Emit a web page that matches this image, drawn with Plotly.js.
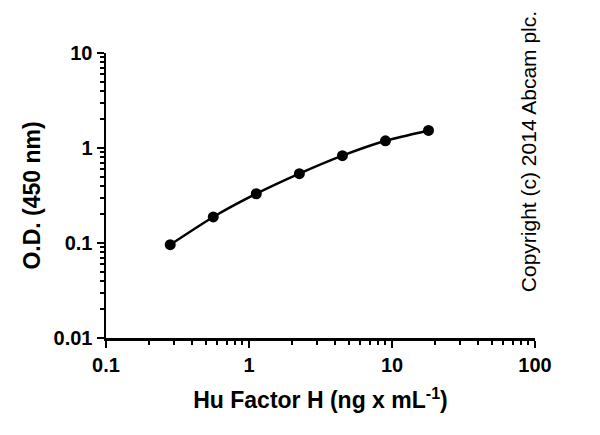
<!DOCTYPE html>
<html>
<head>
<meta charset="utf-8">
<script src="https://cdn.plot.ly/plotly-3.0.1.min.js"></script>
<style>
  html, body { margin: 0; padding: 0; background: #fff; }
  #chart { width: 600px; height: 435px; }
</style>
</head>
<body>
<div id="chart"></div>
<script>
// Hu Factor H standard curve
var concentration = [0.28125, 0.5625, 1.125, 2.25, 4.5, 9, 18];
var odValues = [0.096, 0.188, 0.33, 0.537, 0.83, 1.19, 1.53];

var xTicks = [0.1, 1, 10, 100];
var xTickText = ['0.1', '1', '10', '100'];
var yTicks = [0.01, 0.1, 1, 10];
var yTickText = ['0.01', '0.1', '1', '10'];

// minor ticks 2..9 in every decade
function minorTicks(start, decades) {
  var out = [];
  for (var d = 0; d < decades; d++) {
    var base = start * Math.pow(10, d);
    for (var m = 2; m <= 9; m++) out.push(base * m);
  }
  return out;
}

var trace = {
  x: concentration,
  y: odValues,
  type: 'scatter',
  mode: 'lines+markers',
  line: { color: '#000', width: 2.5, shape: 'spline', smoothing: 0.6 },
  marker: { color: '#000', size: 11 },
  hoverinfo: 'none'
};

var FONT = 'Liberation Sans, Arial, sans-serif';

var layout = {
  width: 600,
  height: 435,
  margin: { l: 106, r: 65, t: 53, b: 97 },
  paper_bgcolor: '#fff',
  plot_bgcolor: '#fff',
  showlegend: false,
  font: { family: FONT, color: '#000' },
  xaxis: {
    type: 'log',
    range: [-1, 2],
    tickmode: 'array',
    tickvals: xTicks,
    ticktext: xTickText,
    ticks: 'outside',
    ticklen: 7,
    tickwidth: 2.5,
    tickcolor: '#000',
    minor: { tickvals: minorTicks(0.1, 3), ticks: 'outside', ticklen: 4, tickwidth: 2, tickcolor: '#000', showgrid: false },
    showline: true,
    linecolor: '#000',
    linewidth: 2.5,
    showgrid: false,
    zeroline: false,
    tickfont: { family: FONT, size: 20, color: '#000', weight: 'bold' },
    title: { text: 'Hu Factor H (ng x mL<sup>-1</sup>)', font: { family: FONT, size: 23, color: '#000', weight: 'bold' }, standoff: 18 }
  },
  yaxis: {
    type: 'log',
    range: [-2, 1],
    tickmode: 'array',
    tickvals: yTicks,
    ticktext: yTickText,
    ticks: 'outside',
    ticklen: 7,
    tickwidth: 2.5,
    tickcolor: '#000',
    minor: { tickvals: minorTicks(0.01, 3), ticks: 'outside', ticklen: 4, tickwidth: 2, tickcolor: '#000', showgrid: false },
    showline: true,
    linecolor: '#000',
    linewidth: 2.5,
    showgrid: false,
    zeroline: false,
    tickfont: { family: FONT, size: 20, color: '#000', weight: 'bold' },
    title: { text: 'O.D. (450 nm)', font: { family: FONT, size: 23, color: '#000', weight: 'bold' }, standoff: 7 }
  },
  annotations: [{
    text: 'Copyright (c) 2014 Abcam plc.',
    xref: 'paper', yref: 'paper',
    x: 0.985, y: 0.654,
    xanchor: 'center', yanchor: 'middle',
    textangle: -90,
    showarrow: false,
    font: { family: FONT, size: 21, color: '#000' }
  }]
};

Plotly.newPlot('chart', [trace], layout, { staticPlot: true, displayModeBar: false });
</script>
</body>
</html>
